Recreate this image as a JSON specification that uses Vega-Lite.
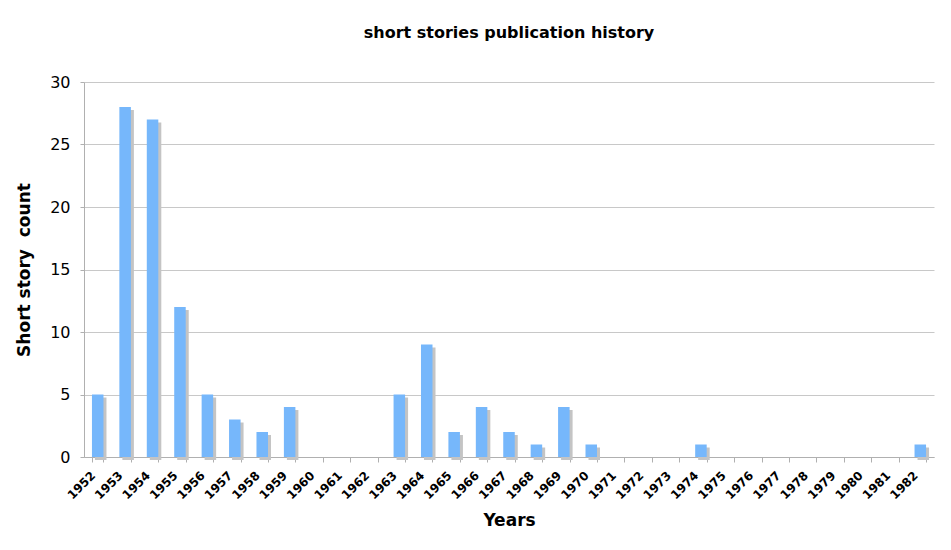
{
  "$schema": "https://vega.github.io/schema/vega-lite/v6.json",
  "autosize": "none",
  "width": 850,
  "height": 375,
  "padding": {"left": 84, "top": 82, "right": 17, "bottom": 93},
  "background": "white",
  "title": {
    "text": "short stories publication history",
    "font": "DejaVu Sans",
    "fontSize": 16,
    "fontWeight": "bold",
    "color": "black",
    "anchor": "middle",
    "offset": 33
  },
  "config": {
    "view": {"stroke": null},
    "font": "DejaVu Sans"
  },
  "data": {
    "values": [
      {"year": "1952", "count": 5},
      {"year": "1953", "count": 28},
      {"year": "1954", "count": 27},
      {"year": "1955", "count": 12},
      {"year": "1956", "count": 5},
      {"year": "1957", "count": 3},
      {"year": "1958", "count": 2},
      {"year": "1959", "count": 4},
      {"year": "1960", "count": 0},
      {"year": "1961", "count": 0},
      {"year": "1962", "count": 0},
      {"year": "1963", "count": 5},
      {"year": "1964", "count": 9},
      {"year": "1965", "count": 2},
      {"year": "1966", "count": 4},
      {"year": "1967", "count": 2},
      {"year": "1968", "count": 1},
      {"year": "1969", "count": 4},
      {"year": "1970", "count": 1},
      {"year": "1971", "count": 0},
      {"year": "1972", "count": 0},
      {"year": "1973", "count": 0},
      {"year": "1974", "count": 1},
      {"year": "1975", "count": 0},
      {"year": "1976", "count": 0},
      {"year": "1977", "count": 0},
      {"year": "1978", "count": 0},
      {"year": "1979", "count": 0},
      {"year": "1980", "count": 0},
      {"year": "1981", "count": 0},
      {"year": "1982", "count": 1}
    ]
  },
  "encoding": {
    "x": {
      "field": "year",
      "type": "ordinal",
      "sort": null,
      "scale": {"paddingInner": 0.58, "paddingOuter": 0.29},
      "axis": {
        "title": "Years",
        "titleFontSize": 17,
        "titleFontWeight": "bold",
        "titleColor": "black",
        "titlePadding": 12,
        "labelAngle": -45,
        "labelAlign": "right",
        "labelBaseline": "middle",
        "labelFontSize": 12,
        "labelFontWeight": "bold",
        "labelColor": "black",
        "labelPadding": 11,
        "labelOffset": -5,
        "tickBand": "extent",
        "tickColor": "#b0b0b0",
        "tickSize": 5,
        "domainColor": "#b0b0b0",
        "grid": false
      }
    },
    "y": {
      "field": "count",
      "type": "quantitative",
      "scale": {"domain": [0, 30], "nice": false},
      "axis": {
        "title": "Short story\u00a0\u00a0count",
        "titleFontSize": 17,
        "titleFontWeight": "bold",
        "titleColor": "black",
        "titlePadding": 16,
        "values": [0, 5, 10, 15, 20, 25, 30],
        "labelFontSize": 16,
        "labelColor": "black",
        "labelPadding": 10,
        "tickSize": 4,
        "tickColor": "#b0b0b0",
        "domainColor": "#b0b0b0",
        "gridColor": "#c8c8c8",
        "gridWidth": 1
      }
    }
  },
  "layer": [
    {
      "mark": {"type": "bar", "color": "#c4c4c4", "xOffset": 3, "x2Offset": 3, "yOffset": 3, "y2Offset": 0}
    },
    {
      "mark": {"type": "bar", "color": "#76b7fb"}
    }
  ]
}
